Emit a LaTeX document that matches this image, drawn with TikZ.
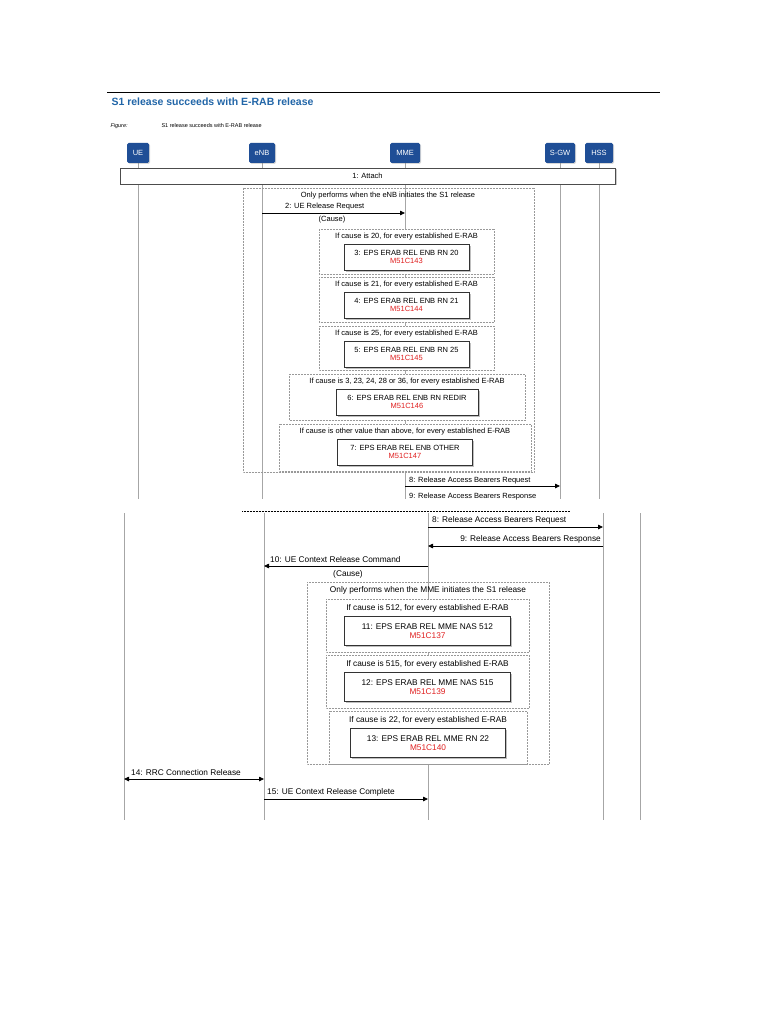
\documentclass[tikz,border=0pt]{standalone}
\usepackage{fontspec}
\setmainfont{Liberation Sans}
\usetikzlibrary{arrows.meta,shadows}
\definecolor{hdr}{HTML}{1F4E96}
\definecolor{ttl}{HTML}{2266A8}
\definecolor{mred}{HTML}{E02020}
\begin{document}
\begin{tikzpicture}[x=1pt,y=-1pt,
 hd/.style={fill=hdr,text=white,rounded corners=1.5pt,minimum height=20pt,inner sep=2pt,font=\fontsize{7.5}{8}\selectfont,drop shadow={shadow xshift=1pt,shadow yshift=-1pt,opacity=.3}},
 life/.style={draw=gray!70,line width=.6pt},
 cond/.style={draw=gray!80,densely dotted,line width=.5pt},
 act/.style={draw=black!80,fill=white,line width=.6pt,align=center,inner sep=1.5pt,font=\fontsize{7.5}{8.5}\selectfont,drop shadow={shadow xshift=1.5pt,shadow yshift=-1.5pt,opacity=.5}},
 lbl/.style={font=\fontsize{7.5}{8}\selectfont,inner sep=0pt},
 lbl2/.style={font=\fontsize{8.3}{9}\selectfont,inner sep=0pt},
 msg/.style={line width=.8pt,-{Triangle[length=5pt,width=4.5pt]}},
 dmsg/.style={line width=.8pt,{Triangle[length=5pt,width=4.5pt]}-{Triangle[length=5pt,width=4.5pt]}}]
\useasboundingbox[fill=white] (0,0) rectangle (768,1024);
% title
\draw[line width=.8pt] (107,92) -- (660,92);
\node[anchor=west,text=ttl,font=\bfseries\fontsize{10.5}{11}\selectfont] (title) at (108,102) {S1 release succeeds with E-RAB release};
\node[anchor=west,font=\itshape\fontsize{5.5}{6}\selectfont] (fig) at (107,126) {Figure:};
\node[anchor=west,font=\fontsize{5.5}{6}\selectfont] (cap) at (158,126) {S1 release succeeds with E-RAB release};
% upper part lifelines
\foreach \n/\x in {ue/138,enb/262,mme/405,sgw/560,hss/599}{
 \coordinate (\n t) at (\x,163); \coordinate (\n b) at (\x,499);
 \draw[life] (\n t) -- (\n b);}
\node[hd,minimum width=22pt] (UE) at (138,153) {UE};
\node[hd,minimum width=26pt] (ENB) at (262,153) {eNB};
\node[hd,minimum width=30pt] (MME) at (405,153) {MME};
\node[hd,minimum width=30pt] (SGW) at (560,153) {S-GW};
\node[hd,minimum width=28pt] (HSS) at (599,153) {HSS};
\node[draw=black!70,fill=white,minimum width=495pt,minimum height=16pt,lbl,drop shadow={shadow xshift=1.5pt,shadow yshift=-1.5pt,opacity=.4}] (attach) at (367.5,176) {1: Attach};
% eNB initiated block
\draw[cond] (243,188) rectangle (534,472);
\node[lbl] (t0) at (388,196) {Only performs when the eNB initiates the S1 release};
\coordinate (m2s) at (262,213); \coordinate (m2e) at (405,213);
\draw[msg] (m2s) -- (m2e);
\node[lbl,anchor=south west] (l2) at (285,210) {2: UE Release Request};
\node[lbl] (c2) at (332,220) {(Cause)};
\newcommand\cbox[9]{%
 \draw[cond,fill=white] (#1,#3) rectangle (#2,#4);
 \node[lbl] (#9c) at ({(#1+#2)/2},#3+8) {#5};
 \node[act,minimum width=#6pt,minimum height=26pt] (#9) at ({(#1+#2)/2},#3+28) {#7\\[-1pt]\textcolor{mred}{#8}};}
\cbox{319}{494}{229}{274}{If cause is 20, for every established E-RAB}{125}{3: EPS ERAB REL ENB RN 20}{M51C143}{a3}
\cbox{319}{494}{277}{322}{If cause is 21, for every established E-RAB}{125}{4: EPS ERAB REL ENB RN 21}{M51C144}{a4}
\cbox{319}{494}{326}{370}{If cause is 25, for every established E-RAB}{125}{5: EPS ERAB REL ENB RN 25}{M51C145}{a5}
\cbox{289}{525}{374}{420}{If cause is 3, 23, 24, 28 or 36, for every established E-RAB}{142}{6: EPS ERAB REL ENB RN REDIR}{M51C146}{a6}
\cbox{279}{531}{424}{471}{If cause is other value than above, for every established E-RAB}{135}{7: EPS ERAB REL ENB OTHER}{M51C147}{a7}
\draw[msg] (405,486) -- (560,486);
\node[lbl,anchor=south west] (l8) at (409,484) {8: Release Access Bearers Request};
\node[lbl,anchor=west] (l9) at (409,497) {9: Release Access Bearers Response};
\fill[white] (100,500) rectangle (680,509);
% lower part
\draw[densely dotted,line width=.5pt] (242,511) -- (570,511);
\foreach \n/\x in {UE/124,ENB/264,MME/428,SGW/603,HSS/640}{
 \coordinate (\n t) at (\x,513); \coordinate (\n b) at (\x,820);
 \draw[life] (\n t) -- (\n b);}
\coordinate (p8a) at (428,527); \coordinate (p8b) at (603,527);
\draw[msg] (p8a) -- (p8b);
\node[lbl2,anchor=south west] (n8) at (432,524) {8: Release Access Bearers Request};
\coordinate (p9a) at (603,546); \coordinate (p9b) at (428,546);
\draw[msg] (p9a) -- (p9b);
\node[lbl2,anchor=south east] (n9) at (601,543) {9: Release Access Bearers Response};
\coordinate (p10a) at (428,566); \coordinate (p10b) at (264,566);
\draw[msg] (p10a) -- (p10b);
\node[lbl2,anchor=south west] (n10) at (270,563) {10: UE Context Release Command};
\node[lbl2] (c10) at (348,574) {(Cause)};
\draw[cond] (307,582) rectangle (549,764);
\node[lbl2] (t1) at (428,590) {Only performs when the MME initiates the S1 release};
\newcommand\dbox[9]{%
 \draw[cond,fill=white] (#1,#3) rectangle (#2,#4);
 \node[lbl2] (#9c) at ({(#1+#2)/2},#3+9) {#5};
 \node[act,font=\fontsize{8.3}{9.5}\selectfont,minimum width=#6pt,minimum height=29pt] (#9) at ({(#1+#2)/2},#3+32) {#7\\[-1pt]\textcolor{mred}{#8}};}
\dbox{326}{529}{599}{652}{If cause is 512, for every established E-RAB}{166}{11: EPS ERAB REL MME NAS 512}{M51C137}{b11}
\dbox{326}{529}{655}{708}{If cause is 515, for every established E-RAB}{166}{12: EPS ERAB REL MME NAS 515}{M51C139}{b12}
\dbox{329}{527}{711}{764}{If cause is 22, for every established E-RAB}{155}{13: EPS ERAB REL MME RN 22}{M51C140}{b13}
\coordinate (p14a) at (124,779); \coordinate (p14b) at (264,779);
\draw[dmsg] (p14a) -- (p14b);
\node[lbl2,anchor=south west] (n14) at (131,776) {14: RRC Connection Release};
\coordinate (p15a) at (264,799); \coordinate (p15b) at (428,799);
\draw[msg] (p15a) -- (p15b);
\node[lbl2,anchor=south west] (n15) at (267,796) {15: UE Context Release Complete};
\end{tikzpicture}
\end{document}
